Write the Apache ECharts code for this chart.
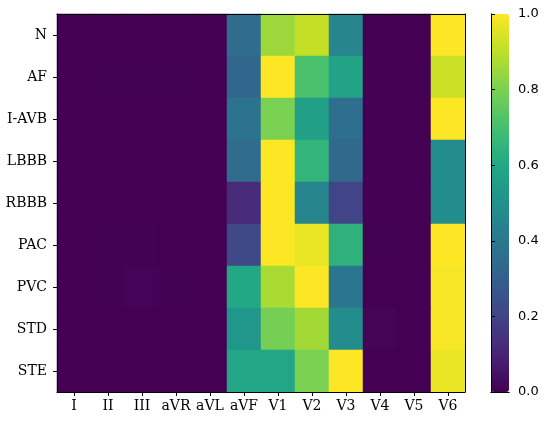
<!DOCTYPE html>
<html>
<head>
<meta charset="utf-8">
<script src="https://cdn.jsdelivr.net/npm/echarts@6/dist/echarts.min.js"></script>
<style>html,body{margin:0;padding:0;background:#fff;}#c{width:550px;height:422px;}</style>
</head>
<body>
<div id="c"></div>
<script>
var leads = ['I','II','III','aVR','aVL','aVF','V1','V2','V3','V4','V5','V6'];
var classes = ['N','AF','I-AVB','LBBB','RBBB','PAC','PVC','STD','STE'];
var rowN    = [0,0,0,0,0,0.35,0.85,0.91,0.45,0,0,1.0];
var rowAF   = [0,0.003,0.003,0.003,0,0.33,1.0,0.71,0.58,0,0,0.92];
var rowIAVB = [0,0,0,0,0,0.38,0.80,0.56,0.36,0,0,1.0];
var rowLBBB = [0,0,0,0,0,0.35,1.0,0.65,0.34,0,0,0.48];
var rowRBBB = [0,0,0,0,0,0.12,1.0,0.45,0.20,0,0,0.48];
var rowPAC  = [0,0.003,0.003,0,0,0.22,1.0,0.97,0.64,0.003,0,1.0];
var rowPVC  = [0,0.003,0.012,0.003,0,0.60,0.87,1.0,0.39,0,0,0.99];
var rowSTD  = [0,0,0,0,0,0.52,0.79,0.86,0.48,0.01,0,0.99];
var rowSTE  = [0,0,0,0,0,0.59,0.59,0.80,1.0,0,0,0.97];
var rows = [rowN,rowAF,rowIAVB,rowLBBB,rowRBBB,rowPAC,rowPVC,rowSTD,rowSTE];
var cbTicks = [0,0.2,0.4,0.6,0.8,1.0];

var data = [];
rows.forEach(function(r, yi){ r.forEach(function(v, xi){ data.push([xi, yi, v]); }); });

var viridis = ['#440154','#482475','#414487','#355f8d','#2a788e','#21918c','#22a884','#44bf70','#7ad151','#bddf26','#fde725'];
var serif = 'DejaVu Serif';
var sans = 'DejaVu Sans';
var line = {show:true, lineStyle:{color:'#000', width:1}};
var tick = {show:true, length:4, lineStyle:{color:'#000', width:1}};

var chart = echarts.init(document.getElementById('c'), null, {renderer:'canvas'});
chart.setOption({
  backgroundColor:'#fff',
  animation:false,
  grid:[
    {left:57, width:408, top:14, height:378},
    {left:491, width:18, top:14, height:378}
  ],
  xAxis:[
    {type:'category', data:leads, gridIndex:0, position:'bottom', z:10,
     axisLine:line, axisTick:Object.assign({alignWithLabel:true}, tick),
     axisLabel:{fontFamily:serif, fontSize:14, color:'#000', margin:7, interval:0},
     splitLine:{show:false}},
    {type:'category', data:leads, gridIndex:0, position:'top', z:10,
     axisLine:line, axisTick:{show:false}, axisLabel:{show:false}},
    {type:'value', gridIndex:1, position:'bottom', min:0, max:1, z:10,
     axisLine:line, axisTick:{show:false}, axisLabel:{show:false}, splitLine:{show:false}},
    {type:'value', gridIndex:1, position:'top', min:0, max:1, z:10,
     axisLine:line, axisTick:{show:false}, axisLabel:{show:false}, splitLine:{show:false}}
  ],
  yAxis:[
    {type:'category', data:classes, gridIndex:0, inverse:true, position:'left', z:10,
     axisLine:line, axisTick:Object.assign({alignWithLabel:true}, tick),
     axisLabel:{fontFamily:serif, fontSize:14, color:'#000', margin:10, interval:0},
     splitLine:{show:false}},
    {type:'category', data:classes, gridIndex:0, inverse:true, position:'right', z:10,
     axisLine:line, axisTick:{show:false}, axisLabel:{show:false}},
    {type:'value', gridIndex:1, position:'right', min:0, max:1, interval:0.2, z:10,
     axisLine:line, axisTick:tick,
     axisLabel:{fontFamily:sans, fontSize:13, color:'#000', margin:9,
       formatter:function(v){ return cbTicks.indexOf(Math.round(v*10)/10) >= 0 ? v.toFixed(1) : ''; }},
     splitLine:{show:false}},
    {type:'value', gridIndex:1, position:'left', min:0, max:1, z:10,
     axisLine:line, axisTick:{show:false}, axisLabel:{show:false}, splitLine:{show:false}}
  ],
  visualMap:{
    type:'continuous', min:0, max:1, seriesIndex:0, calculable:false,
    left:491, top:14, itemWidth:18, itemHeight:378, padding:0,
    orient:'vertical', showLabel:false, text:null,
    inRange:{color:viridis}, z:2
  },
  series:[{
    type:'heatmap', xAxisIndex:0, yAxisIndex:0, data:data,
    itemStyle:{borderWidth:0}, emphasis:{disabled:true}, progressive:0
  }]
});
</script>
</body>
</html>
